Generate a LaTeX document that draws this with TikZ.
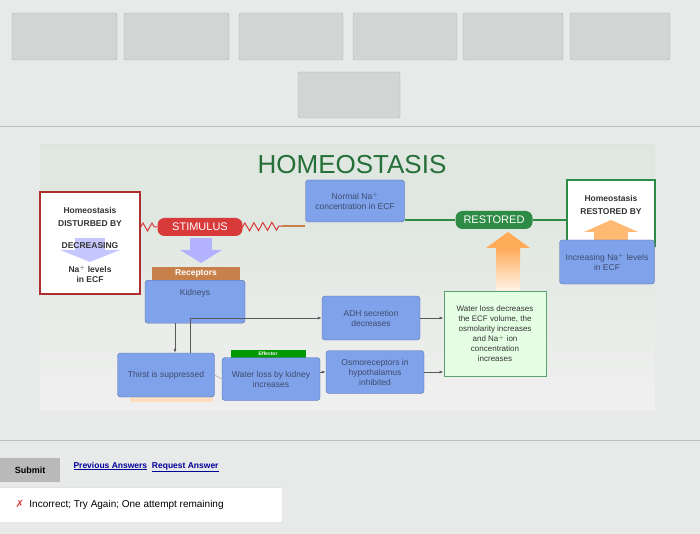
\documentclass[tikz,border=0pt]{standalone}
\usepackage{fontspec}
\setmainfont{Liberation Sans}
\newfontfamily\dejavu{DejaVu Sans}
\usetikzlibrary{arrows.meta,decorations.pathmorphing}
\definecolor{pg}{HTML}{E8E9E9}
\definecolor{tb}{HTML}{D3D4D4}
\definecolor{bb}{HTML}{7FA2EA}
\definecolor{bt}{HTML}{3E4B6E}
\definecolor{gg}{HTML}{2E8B46}
\definecolor{rr}{HTML}{D83A3A}
\definecolor{oo}{HTML}{C8804A}
\begin{document}
\begin{tikzpicture}[x=1pt,y=-1pt,
 tbox/.style={draw=gray!60,fill=tb,rounded corners=2pt},
 bbox/.style={draw=bb!70!black,fill=bb,rounded corners=3pt,font=\fontsize{8.5}{10}\selectfont,text=bt,align=center,inner sep=1pt},
 pill/.style={rounded corners=7pt,text=white,font=\fontsize{11}{12}\selectfont,inner sep=2pt},
 lbl/.style={font=\fontsize{8.5}{10}\selectfont\bfseries,text=black!80,align=center},
 con/.style={draw=gray!70!black,line width=0.7pt,-{Latex[length=4pt]}}]
\useasboundingbox (0,0) rectangle (700,534);
\fill[pg] (0,0) rectangle (700,534);
\foreach \a/\b in {12/117,124/229,239/343,353/457,463/563,570/670}
  \draw[tbox] (\a,13) rectangle (\b,60);
\draw[tbox] (298,72) rectangle (400,118);
\draw[gray!50] (0,126) -- (700,126);
\draw[gray!50] (0,440) -- (700,440);
% panel
\shade[top color=green!15!gray!25,bottom color=gray!12] (40,145) rectangle (655,410);
\fill[green!12!gray!22] (40,145) rectangle (655,225);
\node[text=gg!80!black,font=\fontsize{26}{27}\selectfont] (title) at (352,165) {HOMEOSTASIS};
% disturbed box
\node[draw=rr!80!black,line width=1.5pt,fill=white,minimum width=100pt,minimum height=102pt] (dist) at (90,243) {};
\fill[blue!22] (75,238) rectangle (105,250);
\fill[blue!22] (60,250) -- (120,250) -- (90,262) -- cycle;
\node[lbl] (d1) at (90,210) {Homeostasis};
\node[lbl] (d2) at (90,224) {DISTURBED BY};
\node[lbl] (d3) at (90,246) {DECREASING};
\node[lbl] (d4) at (90,274) {Na$^{\mathbf +}$ levels\\in ECF};
% stimulus and lines
\node[pill,fill=rr,minimum width=85pt,minimum height=18pt] (stim) at (200,227) {STIMULUS};
\draw[rr,line width=1pt,decorate,decoration={zigzag,amplitude=4pt,segment length=9pt}] (dist.east|-stim) -- (stim.west);
\draw[rr,line width=1pt,decorate,decoration={zigzag,amplitude=4pt,segment length=9pt}] (stim.east) -- (282,226);
\coordinate (z) at (282,226);
\node[bbox,minimum width=99pt,minimum height=42pt] (normal) at (355,201) {Normal Na$^+$\\concentration in ECF};
\draw[oo,line width=1.2pt] (z) -- (normal.south west|-z);
\node[pill,fill=gg,minimum width=77pt,minimum height=18pt] (rest) at (494,220) {RESTORED};
\draw[gg,line width=1.2pt] (normal.east|-rest.west) -- (rest.west);
% restored box
\node[draw=gg,line width=1.2pt,fill=white,minimum width=88pt,minimum height=66pt] (rbox) at (611,213) {};
\fill[orange!55] (594,232) rectangle (628,244);
\fill[orange!55] (584,232) -- (638,232) -- (611,220) -- cycle;
\node[lbl] (r1) at (611,198) {Homeostasis};
\node[lbl] (r2) at (611,212) {RESTORED BY};
\draw[gg,line width=1.2pt] (rest.east) -- (rbox.west|-rest);
\node[bbox,minimum width=95pt,minimum height=44pt] (inc) at (607,262) {Increasing Na$^+$ levels\\in ECF};
% blue arrow under stimulus
\fill[blue!30] (190,238) rectangle (212,250);
\fill[blue!30] (180,250) -- (222,250) -- (201,263) -- cycle;
% orange arrow up
\shade[top color=orange!65,bottom color=orange!10] (496,248) rectangle (520,290);
\fill[orange!65] (486,248) -- (530,248) -- (508,232) -- cycle;
% receptors & kidneys
\node[fill=oo,text=white,font=\fontsize{8.5}{9}\selectfont\bfseries,minimum width=88pt,minimum height=13pt,inner sep=0pt] (rec) at (196,273) {Receptors};
\node[bbox,minimum width=100pt,minimum height=43pt,anchor=north,text depth=18pt] (kid) at (195,280) {Kidneys};
% others
\node[bbox,minimum width=98pt,minimum height=44pt] (adh) at (371,318) {ADH secretion\\decreases};
\node[bbox,minimum width=98pt,minimum height=43pt] (osmo) at (375,372) {Osmoreceptors in\\hypothalamus\\inhibited};
\node[draw=gg!80,line width=1pt,fill=green!10,minimum width=102pt,minimum height=85pt,font=\fontsize{8}{10}\selectfont,text=black!80,align=center,inner sep=1pt] (wld) at (495,334) {Water loss decreases\\the ECF volume, the\\osmolarity increases\\and Na$^+$ ion\\concentration\\increases};
\fill[orange!25] (130,395) rectangle (213,402);
\node[bbox,minimum width=97pt,minimum height=44pt] (thirst) at (166,375) {Thirst is suppressed};
\node[fill=green!60!black,text=white,font=\fontsize{5}{6}\selectfont\bfseries,minimum width=75pt,minimum height=9pt,inner sep=0pt] (eff) at (268,354) {Effector};
\node[bbox,minimum width=98pt,minimum height=43pt] (wlk) at (271,379) {Water loss by kidney\\increases};
% connectors
\draw[con] (kid.south-|175,0) -- (thirst.north-|175,0);
\draw[con] (thirst.north-|190,0) |- (adh.west);
\draw[con] (adh.east) -- (wld.west|-adh);
\draw[con] (osmo.east) -- (wld.west|-osmo);
\draw[con] (wlk.east|-osmo) -- (osmo.west|-osmo);
\draw[gray!60,line width=0.7pt] (thirst.east) -- (wlk.west);
% bottom
\node[fill=gray!55,text=black,font=\fontsize{9}{10}\selectfont\bfseries,minimum width=60pt,minimum height=24pt] (sub) at (30,470) {Submit};
\node[text=blue!60!black,font=\fontsize{8.5}{10}\selectfont\bfseries,anchor=west] (prev) at (70,467) {\underline{Previous Answers} \ \underline{Request Answer}};
\node[draw=gray!40,fill=white,rounded corners=2pt,minimum width=285pt,minimum height=35pt] (fb) at (140,505) {};
\node[font=\fontsize{10}{11}\selectfont,anchor=west] (fbt) at (12,505) {\textcolor{rr}{\dejavu\bfseries ✗}\ \ Incorrect; Try Again; One attempt remaining};
\end{tikzpicture}
\end{document}
